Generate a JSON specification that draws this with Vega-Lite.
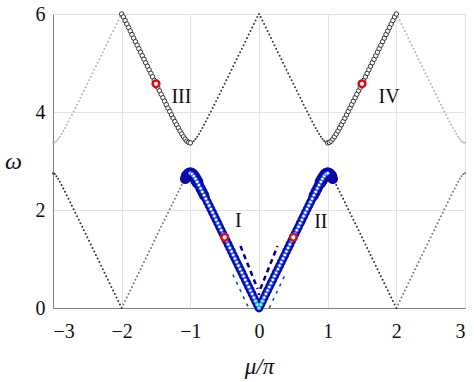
{
"$schema": "https://vega.github.io/schema/vega-lite/v6.json",
"width": 412, "height": 294,
"autosize": {"type": "none"},
"padding": {"left": 53, "top": 14, "right": 9, "bottom": 74},
"background": "white",
"config": {"font": "Liberation Serif", "view": {"stroke": "#808080", "strokeWidth": 1},
 "axis": {"grid": true, "gridColor": "#e3e3e3", "domainColor": "#808080", "ticks": false, "labelFont": "Liberation Serif", "titleFont": "Liberation Serif"}},
"datasets": {
"b": [
{"m":-3,"L":2.75,"U":3.37},{"m":-2.975,"L":2.733,"U":3.38},{"m":-2.95,"L":2.691,"U":3.406},{"m":-2.925,"L":2.636,"U":3.447},{"m":-2.9,"L":2.574,"U":3.496},{"m":-2.875,"L":2.508,"U":3.552},{"m":-2.85,"L":2.44,"U":3.612},{"m":-2.825,"L":2.371,"U":3.675},{"m":-2.8,"L":2.301,"U":3.74},{"m":-2.775,"L":2.23,"U":3.806},{"m":-2.75,"L":2.16,"U":3.874},{"m":-2.725,"L":2.089,"U":3.942},{"m":-2.7,"L":2.017,"U":4.011},{"m":-2.675,"L":1.946,"U":4.08},{"m":-2.65,"L":1.874,"U":4.15},{"m":-2.625,"L":1.802,"U":4.221},{"m":-2.6,"L":1.73,"U":4.291},{"m":-2.575,"L":1.658,"U":4.362},{"m":-2.55,"L":1.586,"U":4.433},{"m":-2.525,"L":1.514,"U":4.504},{"m":-2.5,"L":1.442,"U":4.575},{"m":-2.475,"L":1.37,"U":4.646},{"m":-2.45,"L":1.298,"U":4.718},{"m":-2.425,"L":1.226,"U":4.789},{"m":-2.4,"L":1.154,"U":4.861},{"m":-2.375,"L":1.081,"U":4.933},{"m":-2.35,"L":1.009,"U":5.004},{"m":-2.325,"L":0.937,"U":5.076},{"m":-2.3,"L":0.864,"U":5.148},{"m":-2.275,"L":0.792,"U":5.22},{"m":-2.25,"L":0.72,"U":5.292},{"m":-2.225,"L":0.648,"U":5.364},{"m":-2.2,"L":0.575,"U":5.436},{"m":-2.175,"L":0.503,"U":5.508},{"m":-2.15,"L":0.43,"U":5.58},{"m":-2.125,"L":0.358,"U":5.652},{"m":-2.1,"L":0.286,"U":5.724},{"m":-2.075,"L":0.213,"U":5.796},{"m":-2.05,"L":0.141,"U":5.868},{"m":-2.025,"L":0.069,"U":5.94},{"m":-2,"L":0,"U":6},
{"m":-1.975,"L":0.069,"U":5.94},{"m":-1.95,"L":0.141,"U":5.868},{"m":-1.925,"L":0.213,"U":5.796},{"m":-1.9,"L":0.286,"U":5.724},{"m":-1.875,"L":0.358,"U":5.652},{"m":-1.85,"L":0.43,"U":5.58},{"m":-1.825,"L":0.503,"U":5.508},{"m":-1.8,"L":0.575,"U":5.436},{"m":-1.775,"L":0.648,"U":5.364},{"m":-1.75,"L":0.72,"U":5.292},{"m":-1.725,"L":0.792,"U":5.22},{"m":-1.7,"L":0.864,"U":5.148},{"m":-1.675,"L":0.937,"U":5.076},{"m":-1.65,"L":1.009,"U":5.004},{"m":-1.625,"L":1.081,"U":4.933},{"m":-1.6,"L":1.154,"U":4.861},{"m":-1.575,"L":1.226,"U":4.789},{"m":-1.55,"L":1.298,"U":4.718},{"m":-1.525,"L":1.37,"U":4.646},{"m":-1.5,"L":1.442,"U":4.575},{"m":-1.475,"L":1.514,"U":4.504},{"m":-1.45,"L":1.586,"U":4.433},{"m":-1.425,"L":1.658,"U":4.362},{"m":-1.4,"L":1.73,"U":4.291},{"m":-1.375,"L":1.802,"U":4.221},{"m":-1.35,"L":1.874,"U":4.15},{"m":-1.325,"L":1.946,"U":4.08},{"m":-1.3,"L":2.017,"U":4.011},{"m":-1.275,"L":2.089,"U":3.942},{"m":-1.25,"L":2.16,"U":3.874},{"m":-1.225,"L":2.23,"U":3.806},{"m":-1.2,"L":2.301,"U":3.74},{"m":-1.175,"L":2.371,"U":3.675},{"m":-1.15,"L":2.44,"U":3.612},{"m":-1.125,"L":2.508,"U":3.552},{"m":-1.1,"L":2.574,"U":3.496},{"m":-1.075,"L":2.636,"U":3.447},{"m":-1.05,"L":2.691,"U":3.406},{"m":-1.025,"L":2.733,"U":3.38},{"m":-1,"L":2.75,"U":3.37},
{"m":-0.975,"L":2.733,"U":3.38},{"m":-0.95,"L":2.691,"U":3.406},{"m":-0.925,"L":2.636,"U":3.447},{"m":-0.9,"L":2.574,"U":3.496},{"m":-0.875,"L":2.508,"U":3.552},{"m":-0.85,"L":2.44,"U":3.612},{"m":-0.825,"L":2.371,"U":3.675},{"m":-0.8,"L":2.301,"U":3.74},{"m":-0.775,"L":2.23,"U":3.806},{"m":-0.75,"L":2.16,"U":3.874},{"m":-0.725,"L":2.089,"U":3.942},{"m":-0.7,"L":2.017,"U":4.011},{"m":-0.675,"L":1.946,"U":4.08},{"m":-0.65,"L":1.874,"U":4.15},{"m":-0.625,"L":1.802,"U":4.221},{"m":-0.6,"L":1.73,"U":4.291},{"m":-0.575,"L":1.658,"U":4.362},{"m":-0.55,"L":1.586,"U":4.433},{"m":-0.525,"L":1.514,"U":4.504},{"m":-0.5,"L":1.442,"U":4.575},{"m":-0.475,"L":1.37,"U":4.646},{"m":-0.45,"L":1.298,"U":4.718},{"m":-0.425,"L":1.226,"U":4.789},{"m":-0.4,"L":1.154,"U":4.861},{"m":-0.375,"L":1.081,"U":4.933},{"m":-0.35,"L":1.009,"U":5.004},{"m":-0.325,"L":0.937,"U":5.076},{"m":-0.3,"L":0.864,"U":5.148},{"m":-0.275,"L":0.792,"U":5.22},{"m":-0.25,"L":0.72,"U":5.292},{"m":-0.225,"L":0.648,"U":5.364},{"m":-0.2,"L":0.575,"U":5.436},{"m":-0.175,"L":0.503,"U":5.508},{"m":-0.15,"L":0.43,"U":5.58},{"m":-0.125,"L":0.358,"U":5.652},{"m":-0.1,"L":0.286,"U":5.724},{"m":-0.075,"L":0.213,"U":5.796},{"m":-0.05,"L":0.141,"U":5.868},{"m":-0.025,"L":0.069,"U":5.94},{"m":0,"L":0,"U":6},
{"m":0.025,"L":0.069,"U":5.94},{"m":0.05,"L":0.141,"U":5.868},{"m":0.075,"L":0.213,"U":5.796},{"m":0.1,"L":0.286,"U":5.724},{"m":0.125,"L":0.358,"U":5.652},{"m":0.15,"L":0.43,"U":5.58},{"m":0.175,"L":0.503,"U":5.508},{"m":0.2,"L":0.575,"U":5.436},{"m":0.225,"L":0.648,"U":5.364},{"m":0.25,"L":0.72,"U":5.292},{"m":0.275,"L":0.792,"U":5.22},{"m":0.3,"L":0.864,"U":5.148},{"m":0.325,"L":0.937,"U":5.076},{"m":0.35,"L":1.009,"U":5.004},{"m":0.375,"L":1.081,"U":4.933},{"m":0.4,"L":1.154,"U":4.861},{"m":0.425,"L":1.226,"U":4.789},{"m":0.45,"L":1.298,"U":4.718},{"m":0.475,"L":1.37,"U":4.646},{"m":0.5,"L":1.442,"U":4.575},{"m":0.525,"L":1.514,"U":4.504},{"m":0.55,"L":1.586,"U":4.433},{"m":0.575,"L":1.658,"U":4.362},{"m":0.6,"L":1.73,"U":4.291},{"m":0.625,"L":1.802,"U":4.221},{"m":0.65,"L":1.874,"U":4.15},{"m":0.675,"L":1.946,"U":4.08},{"m":0.7,"L":2.017,"U":4.011},{"m":0.725,"L":2.089,"U":3.942},{"m":0.75,"L":2.16,"U":3.874},{"m":0.775,"L":2.23,"U":3.806},{"m":0.8,"L":2.301,"U":3.74},{"m":0.825,"L":2.371,"U":3.675},{"m":0.85,"L":2.44,"U":3.612},{"m":0.875,"L":2.508,"U":3.552},{"m":0.9,"L":2.574,"U":3.496},{"m":0.925,"L":2.636,"U":3.447},{"m":0.95,"L":2.691,"U":3.406},{"m":0.975,"L":2.733,"U":3.38},{"m":1,"L":2.75,"U":3.37},
{"m":1.025,"L":2.733,"U":3.38},{"m":1.05,"L":2.691,"U":3.406},{"m":1.075,"L":2.636,"U":3.447},{"m":1.1,"L":2.574,"U":3.496},{"m":1.125,"L":2.508,"U":3.552},{"m":1.15,"L":2.44,"U":3.612},{"m":1.175,"L":2.371,"U":3.675},{"m":1.2,"L":2.301,"U":3.74},{"m":1.225,"L":2.23,"U":3.806},{"m":1.25,"L":2.16,"U":3.874},{"m":1.275,"L":2.089,"U":3.942},{"m":1.3,"L":2.017,"U":4.011},{"m":1.325,"L":1.946,"U":4.08},{"m":1.35,"L":1.874,"U":4.15},{"m":1.375,"L":1.802,"U":4.221},{"m":1.4,"L":1.73,"U":4.291},{"m":1.425,"L":1.658,"U":4.362},{"m":1.45,"L":1.586,"U":4.433},{"m":1.475,"L":1.514,"U":4.504},{"m":1.5,"L":1.442,"U":4.575},{"m":1.525,"L":1.37,"U":4.646},{"m":1.55,"L":1.298,"U":4.718},{"m":1.575,"L":1.226,"U":4.789},{"m":1.6,"L":1.154,"U":4.861},{"m":1.625,"L":1.081,"U":4.933},{"m":1.65,"L":1.009,"U":5.004},{"m":1.675,"L":0.937,"U":5.076},{"m":1.7,"L":0.864,"U":5.148},{"m":1.725,"L":0.792,"U":5.22},{"m":1.75,"L":0.72,"U":5.292},{"m":1.775,"L":0.648,"U":5.364},{"m":1.8,"L":0.575,"U":5.436},{"m":1.825,"L":0.503,"U":5.508},{"m":1.85,"L":0.43,"U":5.58},{"m":1.875,"L":0.358,"U":5.652},{"m":1.9,"L":0.286,"U":5.724},{"m":1.925,"L":0.213,"U":5.796},{"m":1.95,"L":0.141,"U":5.868},{"m":1.975,"L":0.069,"U":5.94},{"m":2,"L":0,"U":6},
{"m":2.025,"L":0.069,"U":5.94},{"m":2.05,"L":0.141,"U":5.868},{"m":2.075,"L":0.213,"U":5.796},{"m":2.1,"L":0.286,"U":5.724},{"m":2.125,"L":0.358,"U":5.652},{"m":2.15,"L":0.43,"U":5.58},{"m":2.175,"L":0.503,"U":5.508},{"m":2.2,"L":0.575,"U":5.436},{"m":2.225,"L":0.648,"U":5.364},{"m":2.25,"L":0.72,"U":5.292},{"m":2.275,"L":0.792,"U":5.22},{"m":2.3,"L":0.864,"U":5.148},{"m":2.325,"L":0.937,"U":5.076},{"m":2.35,"L":1.009,"U":5.004},{"m":2.375,"L":1.081,"U":4.933},{"m":2.4,"L":1.154,"U":4.861},{"m":2.425,"L":1.226,"U":4.789},{"m":2.45,"L":1.298,"U":4.718},{"m":2.475,"L":1.37,"U":4.646},{"m":2.5,"L":1.442,"U":4.575},{"m":2.525,"L":1.514,"U":4.504},{"m":2.55,"L":1.586,"U":4.433},{"m":2.575,"L":1.658,"U":4.362},{"m":2.6,"L":1.73,"U":4.291},{"m":2.625,"L":1.802,"U":4.221},{"m":2.65,"L":1.874,"U":4.15},{"m":2.675,"L":1.946,"U":4.08},{"m":2.7,"L":2.017,"U":4.011},{"m":2.725,"L":2.089,"U":3.942},{"m":2.75,"L":2.16,"U":3.874},{"m":2.775,"L":2.23,"U":3.806},{"m":2.8,"L":2.301,"U":3.74},{"m":2.825,"L":2.371,"U":3.675},{"m":2.85,"L":2.44,"U":3.612},{"m":2.875,"L":2.508,"U":3.552},{"m":2.9,"L":2.574,"U":3.496},{"m":2.925,"L":2.636,"U":3.447},{"m":2.95,"L":2.691,"U":3.406},{"m":2.975,"L":2.733,"U":3.38},{"m":3,"L":2.75,"U":3.37}
],
"di": [
{"s":"a","m":-0.27,"w":1.265},{"s":"a","m":-0.02,"w":0.39},
{"s":"b","m":0.02,"w":0.39},{"s":"b","m":0.27,"w":1.265},
{"s":"c","m":0,"w":0.08},{"s":"c","m":0,"w":0.3}
],
"do": [
{"s":"a","m":-0.38,"w":0.68},{"s":"a","m":-0.15,"w":0},
{"s":"b","m":0.15,"w":0},{"s":"b","m":0.38,"w":0.68}
],
"red": [
{"m":-1.5,"w":4.575},{"m":1.5,"w":4.575},{"m":-0.5,"w":1.442},{"m":0.5,"w":1.442}
],
"lab": [
{"m":-0.3,"w":1.77,"t":"I"},{"m":0.9,"w":1.76,"t":"II"},{"m":-1.13,"w":4.3,"t":"III"},{"m":1.895,"w":4.3,"t":"IV"}
]
},
"encoding": {
 "x": {"type": "quantitative", "scale": {"domain": [-3, 3], "nice": false, "zero": false},
   "axis": {"values": [-3,-2,-1,0,1,2,3], "title": "μ/π", "titleFont": "Liberation Serif", "titleFontStyle": "italic", "titleFontWeight": "normal", "titleColor": "#111", "titleFontSize": 23, "titleX": 206, "titleY": 58, "titleBaseline": "middle", "labelFont": "Liberation Serif", "labelFontSize": 20, "labelColor": "#111", "labelPadding": 13,
     "encode": {"labels": {"update": {"font": {"value": "Liberation Serif"}, "fontSize": {"value": 20}}}, "title": {"update": {"font": {"value": "Liberation Serif"}}}}}},
 "y": {"type": "quantitative", "scale": {"domain": [0, 6], "nice": false},
   "axis": {"values": [0,2,4,6], "title": "ω", "titleFont": "Liberation Serif", "titleFontStyle": "italic", "titleFontWeight": "normal", "titleColor": "#111", "titleFontSize": 24, "titleAngle": 0, "titleX": -40, "titleY": 147, "titleAlign": "center", "titleBaseline": "middle", "labelFont": "Liberation Serif", "labelFontSize": 20, "labelColor": "#111", "labelPadding": 8,
     "encode": {"labels": {"update": {"font": {"value": "Liberation Serif"}, "fontSize": {"value": 20}}}, "title": {"update": {"font": {"value": "Liberation Serif"}}}}}}
},
"layer": [
 {"data": {"name": "b"}, "transform": [{"filter": "datum.m <= -2 || datum.m >= 2"}],
  "mark": {"type": "point", "shape": "circle", "filled": true, "size": 4, "color": "#b5b5b5", "opacity": 1},
  "encoding": {"x": {"field": "m"}, "y": {"field": "U"}}},
 {"data": {"name": "b"}, "transform": [{"filter": "datum.m >= -1 && datum.m <= 1"}],
  "mark": {"type": "point", "shape": "circle", "filled": true, "size": 4, "color": "#3a3a3a", "opacity": 1},
  "encoding": {"x": {"field": "m"}, "y": {"field": "U"}}},
 {"data": {"name": "b"}, "transform": [{"filter": "(datum.m >= -3 && datum.m <= -2) || (datum.m >= 1 && datum.m <= 2)"}],
  "mark": {"type": "point", "shape": "circle", "filled": true, "size": 4, "color": "#333333", "opacity": 1},
  "encoding": {"x": {"field": "m"}, "y": {"field": "L"}}},
 {"data": {"name": "b"}, "transform": [{"filter": "(datum.m > -2 && datum.m <= -1) || (datum.m > 2 && datum.m <= 3)"}],
  "mark": {"type": "point", "shape": "circle", "filled": true, "size": 4, "color": "#7a7a7a", "opacity": 1},
  "encoding": {"x": {"field": "m"}, "y": {"field": "L"}}},
 {"data": {"name": "b"}, "transform": [{"filter": "(datum.m >= -2 && datum.m <= -1) || (datum.m >= 1 && datum.m <= 2)"}],
  "mark": {"type": "point", "shape": "circle", "filled": true, "size": 20, "fill": "white", "stroke": "#333333", "strokeWidth": 1, "opacity": 1},
  "encoding": {"x": {"field": "m"}, "y": {"field": "U"}}},
 {"data": {"name": "b"}, "transform": [{"filter": "abs(datum.m) <= 1.075"}],
  "mark": {"type": "point", "shape": "circle", "filled": true, "size": 78, "color": "#0a0aa5", "opacity": 1},
  "encoding": {"x": {"field": "m"}, "y": {"field": "L"}}},
 {"data": {"name": "b"}, "transform": [{"filter": "abs(datum.m) >= 0.8 && abs(datum.m) <= 1.075"}],
  "mark": {"type": "point", "shape": "circle", "filled": true, "size": 110, "color": "#0a0aa5", "opacity": 1},
  "encoding": {"x": {"field": "m"}, "y": {"field": "L"}}},
 {"data": {"name": "b"}, "transform": [{"filter": "abs(datum.m) >= 0.9 && abs(datum.m) <= 1.06"}],
  "mark": {"type": "point", "shape": "circle", "filled": true, "size": 150, "color": "#0a0aa5", "opacity": 1},
  "encoding": {"x": {"field": "m"}, "y": {"field": "L"}}},
 {"data": {"name": "di"},
  "mark": {"type": "line", "color": "#00008b", "strokeWidth": 2.5, "strokeDash": [5, 4]},
  "encoding": {"x": {"field": "m"}, "y": {"field": "w"}, "detail": {"field": "s"}}},
 {"data": {"name": "do"},
  "mark": {"type": "line", "color": "#2040c0", "strokeWidth": 1.5, "strokeDash": [3, 5]},
  "encoding": {"x": {"field": "m"}, "y": {"field": "w"}, "detail": {"field": "s"}}},
 {"data": {"name": "b"}, "transform": [{"filter": "abs(datum.m) <= 1"}],
  "mark": {"type": "point", "shape": "circle", "filled": true, "size": 13, "fill": "white", "stroke": "#2a5cff", "strokeWidth": 1, "opacity": 1},
  "encoding": {"x": {"field": "m"}, "y": {"field": "L"}}},
 {"data": {"name": "b"}, "transform": [{"filter": "abs(datum.m) <= 0.06"}],
  "mark": {"type": "point", "shape": "circle", "filled": true, "size": 13, "fill": "#7fffd0", "stroke": "#20a0e0", "strokeWidth": 0.8, "opacity": 1},
  "encoding": {"x": {"field": "m"}, "y": {"field": "L"}}},
 {"data": {"name": "red"},
  "mark": {"type": "point", "shape": "circle", "filled": true, "size": 45, "fill": "white", "stroke": "#d0101e", "strokeWidth": 2.5, "opacity": 1},
  "encoding": {"x": {"field": "m"}, "y": {"field": "w"}}},
 {"data": {"name": "lab"},
  "mark": {"type": "text", "font": "Liberation Serif", "fontSize": 20, "color": "#111", "align": "center", "baseline": "middle"},
  "encoding": {"x": {"field": "m"}, "y": {"field": "w"}, "text": {"field": "t"}}}
]
}
